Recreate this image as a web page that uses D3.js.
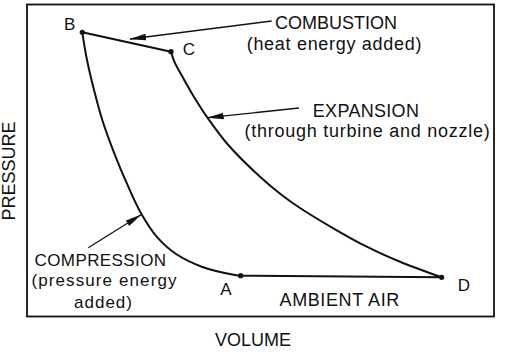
<!DOCTYPE html>
<html><head><meta charset="utf-8">
<script src="https://cdn.jsdelivr.net/npm/d3@7"></script>
<style>
html,body{margin:0;padding:0;background:#fff;}
svg text{font-family:"Liberation Sans",Arial,Helvetica,sans-serif;fill:#111;}
</style></head>
<body><svg id="c" width="523" height="357"></svg>
<script>
// ---- data (volume, pressure in relative units 0..100) ----
const statePoints = ["A", "B", "C", "D"];
const stateVolume = [45.76, 11.84, 30.84, 88.80];
const statePressure = [13.08, 91.09, 84.87, 12.56];

const compressionVolume   = [11.84, 12.85, 14.35, 16.12, 18.69, 21.69, 24.41, 27.77, 31.69, 37.41, 44.54, 45.76];
const compressionPressure = [91.09, 82.21, 72.60, 62.98, 52.31, 41.60, 33.08, 25.58, 20.26, 15.96, 13.30, 13.08];

const expansionVolume   = [30.84, 31.60, 33.47, 35.80, 38.65, 43.10, 50.26, 54.54, 58.46, 65.59, 72.74, 79.87, 88.80];
const expansionPressure = [84.87, 81.50, 76.35, 70.30, 63.72, 54.97, 44.29, 38.94, 34.78, 28.27, 22.37, 17.56, 12.56];

const axisLabels = ["VOLUME", "PRESSURE"];

// annotation arrows: from [v,p] to tip [v,p]
const arrowNames = ["combustion", "expansion", "compression"];
const arrowFromV = [52.40, 58.24, 13.13];
const arrowFromP = [94.71, 66.83, 22.05];
const arrowToV   = [22.06, 38.69, 24.41];
const arrowToP   = [88.94, 63.72, 32.60];

const noteLines = [
  "COMBUSTION", "(heat energy added)",
  "EXPANSION", "(through turbine and nozzle)",
  "COMPRESSION", "(pressure energy", "added)",
  "AMBIENT AIR"
];

// ---- layout ----
const svg = d3.select("#c");
const frame = {left: 27, top: 4.5, right: 494, bottom: 316.5};
const x = d3.scaleLinear().domain([0, 100]).range([frame.left, frame.right]);
const y = d3.scaleLinear().domain([0, 100]).range([frame.bottom, frame.top]);

svg.append("rect").attr("width", 523).attr("height", 357).attr("fill", "#fff");

svg.append("defs").append("marker")
  .attr("id", "ah").attr("markerUnits", "userSpaceOnUse")
  .attr("viewBox", "0 -4 17 8").attr("refX", 16).attr("refY", 0)
  .attr("markerWidth", 17).attr("markerHeight", 8).attr("orient", "auto")
  .append("path").attr("d", "M0,-3.2L17,0L0,3.2Z").attr("fill", "#111");

// frame
svg.append("rect")
  .attr("x", x(0)).attr("y", y(100))
  .attr("width", x(100) - x(0)).attr("height", y(0) - y(100))
  .attr("fill", "none").attr("stroke", "#111").attr("stroke-width", 1.8);

const line = d3.line().x(d => x(d[0])).y(d => y(d[1])).curve(d3.curveCatmullRom.alpha(0.5));
const lin = d3.line().x(d => x(d[0])).y(d => y(d[1]));

const comp = compressionVolume.map((v, i) => [v, compressionPressure[i]]);
const expn = expansionVolume.map((v, i) => [v, expansionPressure[i]]);
const pt = n => { const i = statePoints.indexOf(n); return [stateVolume[i], statePressure[i]]; };

const g = svg.append("g").attr("fill", "none").attr("stroke", "#111").attr("stroke-width", 2)
  .attr("stroke-linecap", "round").attr("stroke-linejoin", "round");
g.append("path").attr("d", line(comp));
g.append("path").attr("d", line(expn));
g.append("path").attr("d", lin([pt("B"), pt("C")]));
g.append("path").attr("d", lin([pt("A"), pt("D")]));

// state dots
svg.selectAll("circle.st").data(statePoints).join("circle")
  .attr("class", "st")
  .attr("cx", (d, i) => x(stateVolume[i])).attr("cy", (d, i) => y(statePressure[i]))
  .attr("r", 2.6).attr("fill", "#111");

// arrows
svg.selectAll("line.ar").data(arrowNames).join("line")
  .attr("class", "ar")
  .attr("x1", (d, i) => x(arrowFromV[i])).attr("y1", (d, i) => y(arrowFromP[i]))
  .attr("x2", (d, i) => x(arrowToV[i])).attr("y2", (d, i) => y(arrowToP[i]))
  .attr("stroke", "#111").attr("stroke-width", 1.3).attr("marker-end", "url(#ah)");

// state letters
const letterPos = {A: [226, 295], B: [69.7, 30], C: [189, 55], D: [464, 291]};
svg.selectAll("text.st").data(statePoints).join("text")
  .attr("class", "st").attr("text-anchor", "middle").attr("font-size", 17)
  .attr("x", d => letterPos[d][0]).attr("y", d => letterPos[d][1]).text(d => d);

// notes: x, baseline, letter-spacing, font-size
const notePos = [
  [336, 29, 0, 18], [334.4, 50, 0.7, 18],
  [366, 116.5, 0.3, 18], [367.5, 137, 0.75, 18],
  [100.5, 266, 0.4, 17], [104.5, 285.5, 1.1, 17], [103.5, 307.5, 1.0, 17],
  [339.7, 306, 0.6, 18]
];
svg.selectAll("text.note").data(noteLines).join("text")
  .attr("class", "note").attr("text-anchor", "middle")
  .attr("font-size", (d, i) => notePos[i][3])
  .attr("x", (d, i) => notePos[i][0]).attr("y", (d, i) => notePos[i][1])
  .attr("letter-spacing", (d, i) => notePos[i][2])
  .text(d => d);

// axis titles
svg.append("text").attr("text-anchor", "middle").attr("font-size", 18)
  .attr("x", 253).attr("y", 346).text(axisLabels[0]);
svg.append("text").attr("text-anchor", "middle").attr("font-size", 18)
  .attr("transform", "translate(14.5,171) rotate(-90)").text(axisLabels[1]);
</script></body></html>
